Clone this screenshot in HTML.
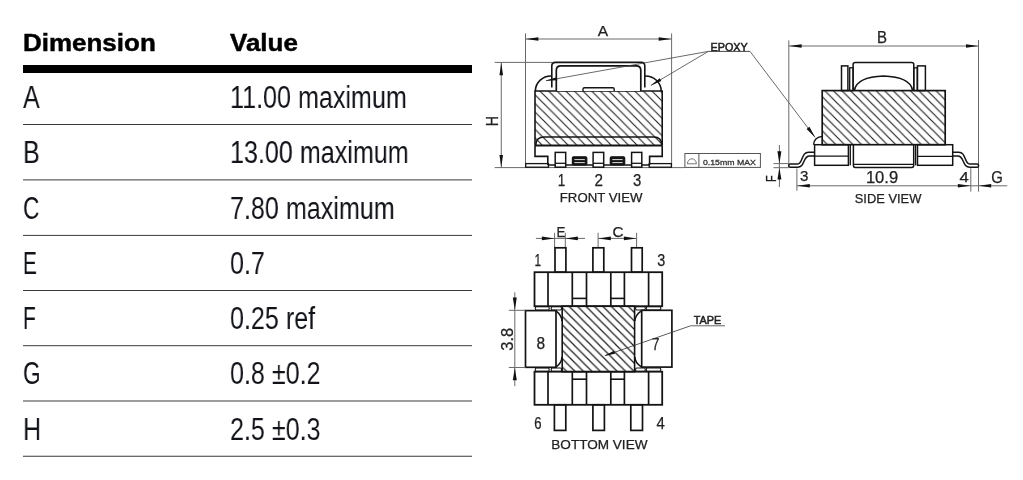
<!DOCTYPE html>
<html><head><meta charset="utf-8">
<style>
html,body{margin:0;padding:0;background:#fff;}
body{width:1023px;height:480px;position:relative;overflow:hidden;font-family:"Liberation Sans",sans-serif;}
.h{position:absolute;will-change:transform;top:0;font-weight:bold;font-size:24px;letter-spacing:0;transform-origin:0 0;transform:scaleX(1.082);-webkit-text-stroke:0.45px #000;line-height:1;color:#000;white-space:nowrap;}
.thick{position:absolute;left:23px;width:449px;top:65px;height:8px;background:#000;}
.ln{position:absolute;left:23px;width:449px;height:1px;background:#3a3a3a;}
.t{position:absolute;will-change:transform;font-size:31px;line-height:1;color:#111318;white-space:nowrap;transform-origin:0 0;transform:scaleX(0.81);}
svg{position:absolute;left:0;top:0;will-change:transform;}
</style></head><body>
<div class="h" style="left:23px;top:31px">Dimension</div>
<div class="h" style="left:229.6px;top:31px">Value</div>
<div class="thick"></div>

<div class="t" style="left:23px;top:82.00px">A</div>
<div class="t" style="left:229.8px;top:82.00px">11.00 maximum</div>
<div class="t" style="left:23px;top:137.25px">B</div>
<div class="t" style="left:229.8px;top:137.25px">13.00 maximum</div>
<div class="t" style="left:22.7px;top:192.50px;transform:scaleX(0.73)">C</div>
<div class="t" style="left:229.8px;top:192.50px">7.80 maximum</div>
<div class="t" style="left:22.7px;top:247.75px;transform:scaleX(0.67)">E</div>
<div class="t" style="left:229.8px;top:247.75px">0.7</div>
<div class="t" style="left:22.7px;top:303.00px;transform:scaleX(0.68)">F</div>
<div class="t" style="left:229.8px;top:303.00px">0.25 ref</div>
<div class="t" style="left:22.7px;top:358.25px;transform:scaleX(0.73)">G</div>
<div class="t" style="left:229.8px;top:358.25px">0.8 ±0.2</div>
<div class="t" style="left:23px;top:413.50px">H</div>
<div class="t" style="left:229.8px;top:413.50px">2.5 ±0.3</div>

<svg width="1023" height="480" viewBox="0 0 1023 480" font-family="Liberation Sans, sans-serif">
<defs>
<pattern id="hat" patternUnits="userSpaceOnUse" x="0" y="8.0" width="8.62" height="8.62"><path d="M-2.155,-2.155 L10.774999999999999,10.774999999999999 M-2.155,6.465 L2.155,10.774999999999999 M6.465,-2.155 L10.774999999999999,2.155" stroke="#1e1e1e" stroke-width="1.1"/></pattern>
<pattern id="hat2" patternUnits="userSpaceOnUse" x="0" y="7.37" width="8.44" height="8.44"><path d="M-2.11,-2.11 L10.549999999999999,10.549999999999999 M-2.11,6.33 L2.11,10.549999999999999 M6.33,-2.11 L10.549999999999999,2.11" stroke="#1e1e1e" stroke-width="1.25"/></pattern>
<pattern id="hat3" patternUnits="userSpaceOnUse" x="0" y="1.2" width="8.55" height="8.55"><path d="M-2.1375,-2.1375 L10.6875,10.6875 M-2.1375,6.4125000000000005 L2.1375,10.6875 M6.4125000000000005,-2.1375 L10.6875,2.1375" stroke="#1e1e1e" stroke-width="1.15"/></pattern>
</defs>
<line x1="23" y1="124.5" x2="472" y2="124.5" stroke="#3a3a3a" stroke-width="1.0" />
<line x1="23" y1="179.9" x2="472" y2="179.9" stroke="#3a3a3a" stroke-width="1.0" />
<line x1="23" y1="235.4" x2="472" y2="235.4" stroke="#3a3a3a" stroke-width="1.0" />
<line x1="23" y1="290.5" x2="472" y2="290.5" stroke="#3a3a3a" stroke-width="1.0" />
<line x1="23" y1="345.7" x2="472" y2="345.7" stroke="#3a3a3a" stroke-width="1.0" />
<line x1="23" y1="401.0" x2="472" y2="401.0" stroke="#3a3a3a" stroke-width="1.0" />
<line x1="23" y1="456.25" x2="472" y2="456.25" stroke="#3a3a3a" stroke-width="1.0" />
<line x1="525.5" y1="33.4" x2="525.5" y2="167.5" stroke="#6a6a6a" stroke-width="1.0" />
<line x1="671.6" y1="33.4" x2="671.6" y2="167.5" stroke="#6a6a6a" stroke-width="1.0" />
<line x1="525.5" y1="39" x2="671.6" y2="39" stroke="#6a6a6a" stroke-width="1.0" />
<path d="M525.80,39.00 L538.40,37.20 L538.40,40.80 Z" fill="#111"/>
<path d="M671.30,39.00 L658.70,40.80 L658.70,37.20 Z" fill="#111"/>
<text x="597.8" y="36" font-size="14" text-anchor="start" fill="#222" stroke="#222" stroke-width="0.25" textLength="10.4" lengthAdjust="spacingAndGlyphs" >A</text>
<line x1="494.7" y1="62.4" x2="552" y2="62.4" stroke="#6a6a6a" stroke-width="1.0" />
<line x1="494.7" y1="167.6" x2="684.8" y2="167.6" stroke="#6a6a6a" stroke-width="1.0" />
<line x1="501.25" y1="62.4" x2="501.25" y2="167.6" stroke="#6a6a6a" stroke-width="1.0" />
<path d="M501.25,62.80 L503.05,75.20 L499.45,75.20 Z" fill="#111"/>
<path d="M501.25,167.20 L499.45,155.00 L503.05,155.00 Z" fill="#111"/>
<text x="497.9" y="126.2" font-size="16.5" text-anchor="start" fill="#222" stroke="#222" stroke-width="0.25" textLength="10.2" lengthAdjust="spacingAndGlyphs" transform="rotate(-90 497.9 126.2)" >H</text>
<rect x="535" y="91" width="127.2" height="54.5" fill="url(#hat)"/>
<path d="M535,145.5 V91 H662.2 V145.5" stroke="#141414" stroke-width="1.6" fill="none" />
<path d="M535.8,145 Q536.2,137 544,137 H653.8 Q661.6,137 661.8,145" stroke="#141414" stroke-width="1.6" fill="none" />
<path d="M535,145.5 H662.2" stroke="#141414" stroke-width="1.8" fill="none" />
<path d="M535,145.5 V156.4 H547.8 V165" stroke="#141414" stroke-width="1.6" fill="none" />
<path d="M662.2,145.5 V156.4 H649.6 V165" stroke="#141414" stroke-width="1.6" fill="none" />
<path d="M547.8,165 H649.6" stroke="#141414" stroke-width="1.4" fill="none" />
<rect x="525.7" y="163.6" width="22.80" height="3.60" rx="0" stroke="#141414" stroke-width="1.3" fill="none"/>
<rect x="649.2" y="163.6" width="22.20" height="3.60" rx="0" stroke="#141414" stroke-width="1.3" fill="none"/>
<rect x="555.2" y="152.4" width="10.50" height="14.80" rx="0" stroke="#141414" stroke-width="1.5" fill="#fff"/>
<line x1="555.2" y1="163.3" x2="565.7" y2="163.3" stroke="#141414" stroke-width="1.3" />
<rect x="593.1" y="152.4" width="10.60" height="14.80" rx="0" stroke="#141414" stroke-width="1.5" fill="#fff"/>
<line x1="593.1" y1="163.3" x2="603.7" y2="163.3" stroke="#141414" stroke-width="1.3" />
<rect x="631.6" y="152.4" width="10.20" height="14.80" rx="0" stroke="#141414" stroke-width="1.5" fill="#fff"/>
<line x1="631.6" y1="163.3" x2="641.8" y2="163.3" stroke="#141414" stroke-width="1.3" />
<rect x="572.4" y="156.8" width="14.40" height="8.20" rx="1.2" stroke="#141414" stroke-width="1.2" fill="#151515"/>
<line x1="574.4" y1="159.6" x2="584.8" y2="159.6" stroke="#ddd" stroke-width="1.0" />
<line x1="574.4" y1="162.6" x2="584.8" y2="162.6" stroke="#ddd" stroke-width="1.0" />
<rect x="610.3" y="156.8" width="14.40" height="8.20" rx="1.2" stroke="#141414" stroke-width="1.2" fill="#151515"/>
<line x1="612.3" y1="159.6" x2="622.7" y2="159.6" stroke="#ddd" stroke-width="1.0" />
<line x1="612.3" y1="162.6" x2="622.7" y2="162.6" stroke="#ddd" stroke-width="1.0" />
<rect x="556.3" y="66" width="84.5" height="25" fill="#fff"/>
<path d="M551.8,87.5 V66 Q551.8,62.4 555.4,62.4 H641.2 Q644.8,62.4 644.8,66 V87.5" stroke="#141414" stroke-width="1.6" fill="none" />
<path d="M556.3,91 V70.5 Q556.3,65.9 560.9,65.9 H636.2 Q640.8,65.9 640.8,70.5 V91" stroke="#141414" stroke-width="1.7" fill="none" />
<path d="M583,91 V89.2 Q583,87.7 584.5,87.7 H612.7 Q614.2,87.7 614.2,89.2 V91" stroke="#141414" stroke-width="1.4" fill="none" />
<path d="M535.4,91 A15.6,15 0 0 1 551.8,76" stroke="#141414" stroke-width="1.6" fill="none" />
<path d="M644.8,76 A16,15 0 0 1 661.2,91" stroke="#141414" stroke-width="1.6" fill="none" />
<text x="561.5" y="186.2" font-size="16.5" text-anchor="middle" fill="#222" stroke="#222" stroke-width="0.25" textLength="7.5" lengthAdjust="spacingAndGlyphs" >1</text>
<text x="598.8" y="186.2" font-size="16.5" text-anchor="middle" fill="#222" stroke="#222" stroke-width="0.25" textLength="8.5" lengthAdjust="spacingAndGlyphs" >2</text>
<text x="637.2" y="186.2" font-size="16.5" text-anchor="middle" fill="#222" stroke="#222" stroke-width="0.25" textLength="8.3" lengthAdjust="spacingAndGlyphs" >3</text>
<text x="559.8" y="202.2" font-size="12.6" text-anchor="start" fill="#222" stroke="#222" stroke-width="0.25" textLength="82.6" lengthAdjust="spacingAndGlyphs" >FRONT VIEW</text>
<rect x="684.9" y="153.5" width="75.50" height="13.90" rx="0" stroke="#555" stroke-width="1.0" fill="none"/>
<line x1="698.9" y1="153.5" x2="698.9" y2="167.4" stroke="#555" stroke-width="1.0" />
<path d="M687.4,163.8 A4.5,5 0 0 1 696.4,163.8 Z" stroke="#666" stroke-width="0.9" fill="none" />
<text x="703" y="165.4" font-size="8.0" text-anchor="start" fill="#333" stroke="#333" stroke-width="0.3" textLength="52.8" lengthAdjust="spacingAndGlyphs" >0.15mm MAX</text>
<text x="710.6" y="50.6" font-size="10.6" text-anchor="start" fill="#222" stroke="#222" stroke-width="0.5" textLength="37.1" lengthAdjust="spacingAndGlyphs" >EPOXY</text>
<line x1="708.3" y1="51.4" x2="750" y2="51.4" stroke="#333" stroke-width="0.9" />
<line x1="708.3" y1="51.4" x2="546" y2="80.7" stroke="#444" stroke-width="0.8" />
<path d="M545.40,80.80 L556.71,77.13 L557.29,80.27 Z" fill="#111"/>
<line x1="708.3" y1="51.4" x2="651" y2="85.4" stroke="#444" stroke-width="0.8" />
<path d="M650.30,85.80 L659.68,78.33 L661.32,81.07 Z" fill="#111"/>
<line x1="750" y1="51.4" x2="815" y2="137.2" stroke="#444" stroke-width="0.8" />
<path d="M815.20,137.40 L806.57,128.99 L809.43,126.81 Z" fill="#111"/>
<line x1="788.8" y1="40.4" x2="788.8" y2="167.3" stroke="#6a6a6a" stroke-width="1.0" />
<line x1="978.5" y1="40.0" x2="978.5" y2="191.6" stroke="#6a6a6a" stroke-width="1.0" />
<line x1="788.8" y1="46" x2="978.5" y2="46" stroke="#6a6a6a" stroke-width="1.0" />
<path d="M789.10,46.00 L801.60,44.20 L801.60,47.80 Z" fill="#111"/>
<path d="M978.20,46.00 L966.00,47.80 L966.00,44.20 Z" fill="#111"/>
<text x="877.0" y="42.8" font-size="16.5" text-anchor="start" fill="#222" stroke="#222" stroke-width="0.25" textLength="10.0" lengthAdjust="spacingAndGlyphs" >B</text>
<rect x="822.2" y="90.6" width="123" height="54.1" fill="url(#hat3)"/>
<rect x="822.2" y="90.6" width="123.00" height="54.10" rx="0" stroke="#141414" stroke-width="1.7" fill="none"/>
<rect x="841.5" y="65.9" width="6.40" height="24.70" rx="0" stroke="#141414" stroke-width="1.5" fill="none"/>
<rect x="849.7" y="67.8" width="3.40" height="22.80" rx="0" stroke="#141414" stroke-width="1.3" fill="none"/>
<rect x="913.8" y="67.8" width="3.40" height="22.80" rx="0" stroke="#141414" stroke-width="1.3" fill="none"/>
<rect x="917.5" y="65.9" width="7.90" height="24.70" rx="0" stroke="#141414" stroke-width="1.5" fill="none"/>
<path d="M853.1,90.6 V64.6 Q853.1,62.5 855.2,62.5 H911.7 Q913.8,62.5 913.8,64.6 V90.6" stroke="#141414" stroke-width="1.5" fill="none" />
<path d="M854.5,90 Q857,77 883.5,76 Q910,77 912.5,90" stroke="#141414" stroke-width="1.5" fill="none" />
<path d="M813.6,144.7 A8.6,8.3 0 0 1 822.2,136.4" stroke="#141414" stroke-width="1.5" fill="none" />
<rect x="814.6" y="144.7" width="33.80" height="20.60" rx="0" stroke="#141414" stroke-width="1.5" fill="none"/>
<line x1="814.6" y1="156.1" x2="848.4" y2="156.1" stroke="#141414" stroke-width="1.4" />
<rect x="917.5" y="144.7" width="35.20" height="20.60" rx="0" stroke="#141414" stroke-width="1.5" fill="none"/>
<line x1="917.5" y1="156.4" x2="952.7" y2="156.4" stroke="#141414" stroke-width="1.4" />
<line x1="850.3" y1="144.7" x2="850.3" y2="165.3" stroke="#141414" stroke-width="1.3" />
<line x1="915.6" y1="144.7" x2="915.6" y2="165.3" stroke="#141414" stroke-width="1.3" />
<path d="M853.4,144.7 V165.6 Q853.4,167.4 855.2,167.4 H911.9 Q913.7,167.4 913.7,165.6 V144.7" stroke="#141414" stroke-width="1.5" fill="none" />
<line x1="853.4" y1="164.4" x2="913.7" y2="164.4" stroke="#141414" stroke-width="1.3" />
<path d="M814.6,152.2 H808.6 C804.5,152.2 803.5,155 801.5,160 C800.3,163 799.2,164.1 797,164.1 H790.3 A1.6,1.6 0 0 0 790.3,167.3 H797.5 C801.5,167.3 802.6,164.7 804.2,161 C805.8,157.2 806.8,156 809.5,156 H814.6" stroke="#141414" stroke-width="1.5" fill="none" />
<path d="M952.7,152.2 H958.7 C962.8,152.2 963.8,155 965.8,160 C967,163 968.1,164.1 970.3,164.1 H977 A1.6,1.6 0 0 1 977,167.3 H969.8 C965.8,167.3 964.7,164.7 963.1,161 C961.5,157.2 960.5,156 957.8,156 H952.7" stroke="#141414" stroke-width="1.5" fill="none" />
<line x1="779.4" y1="145" x2="779.4" y2="187" stroke="#6a6a6a" stroke-width="1.0" />
<line x1="773.5" y1="163.6" x2="788.8" y2="163.6" stroke="#6a6a6a" stroke-width="1.0" />
<line x1="773.5" y1="167.7" x2="788.8" y2="167.7" stroke="#6a6a6a" stroke-width="1.0" />
<path d="M779.40,163.40 L777.40,151.20 L781.40,151.20 Z" fill="#111"/>
<path d="M779.40,167.90 L781.40,179.60 L777.40,179.60 Z" fill="#111"/>
<text x="776.3" y="182.0" font-size="15.5" text-anchor="start" fill="#222" stroke="#222" stroke-width="0.25" textLength="6.6" lengthAdjust="spacingAndGlyphs" transform="rotate(-90 776.3 182.0)" >F</text>
<line x1="796.9" y1="168.6" x2="796.9" y2="190.8" stroke="#6a6a6a" stroke-width="1.0" />
<line x1="970.8" y1="168.2" x2="970.8" y2="191.6" stroke="#6a6a6a" stroke-width="1.0" />
<line x1="796.9" y1="185.8" x2="1007.3" y2="185.8" stroke="#6a6a6a" stroke-width="1.0" />
<path d="M797.20,185.80 L809.80,184.00 L809.80,187.60 Z" fill="#111"/>
<path d="M970.50,185.80 L957.90,187.60 L957.90,184.00 Z" fill="#111"/>
<path d="M978.80,185.80 L991.20,184.00 L991.20,187.60 Z" fill="#111"/>
<text x="800" y="181.4" font-size="15.5" text-anchor="start" fill="#222" stroke="#222" stroke-width="0.25" textLength="8.4" lengthAdjust="spacingAndGlyphs" >3</text>
<text x="865.9" y="182.9" font-size="16" text-anchor="start" fill="#222" stroke="#222" stroke-width="0.25" textLength="32.2" lengthAdjust="spacingAndGlyphs" >10.9</text>
<text x="959.5" y="182.3" font-size="15.5" text-anchor="start" fill="#222" stroke="#222" stroke-width="0.25" textLength="9.3" lengthAdjust="spacingAndGlyphs" >4</text>
<text x="991.2" y="183" font-size="16" text-anchor="start" fill="#222" stroke="#222" stroke-width="0.25" textLength="11.6" lengthAdjust="spacingAndGlyphs" >G</text>
<text x="854.7" y="203.1" font-size="13.5" text-anchor="start" fill="#222" stroke="#222" stroke-width="0.25" textLength="66.7" lengthAdjust="spacingAndGlyphs" >SIDE VIEW</text>
<line x1="554.6" y1="232.8" x2="554.6" y2="247.8" stroke="#6a6a6a" stroke-width="1.0" />
<line x1="565.3" y1="232.8" x2="565.3" y2="247.8" stroke="#6a6a6a" stroke-width="1.0" />
<line x1="535.9" y1="238.4" x2="585" y2="238.4" stroke="#6a6a6a" stroke-width="1.0" />
<path d="M554.40,238.40 L541.90,240.20 L541.90,236.60 Z" fill="#111"/>
<path d="M565.50,238.40 L577.90,236.60 L577.90,240.20 Z" fill="#111"/>
<text x="556.4" y="236.6" font-size="15" text-anchor="start" fill="#222" stroke="#222" stroke-width="0.25" textLength="8.9" lengthAdjust="spacingAndGlyphs" >E</text>
<line x1="598.1" y1="232.8" x2="598.1" y2="247.8" stroke="#6a6a6a" stroke-width="1.0" />
<line x1="636.6" y1="232.8" x2="636.6" y2="247.8" stroke="#6a6a6a" stroke-width="1.0" />
<line x1="598.1" y1="238.4" x2="636.6" y2="238.4" stroke="#6a6a6a" stroke-width="1.0" />
<path d="M598.40,238.40 L610.80,236.60 L610.80,240.20 Z" fill="#111"/>
<path d="M636.30,238.40 L623.90,240.20 L623.90,236.60 Z" fill="#111"/>
<text x="612.4" y="236.6" font-size="15" text-anchor="start" fill="#222" stroke="#222" stroke-width="0.25" textLength="11.0" lengthAdjust="spacingAndGlyphs" >C</text>
<rect x="555.0" y="247.8" width="10.90" height="24.40" rx="0" stroke="#141414" stroke-width="1.7" fill="#fff"/>
<rect x="592.9" y="247.8" width="10.90" height="24.40" rx="0" stroke="#141414" stroke-width="1.7" fill="#fff"/>
<rect x="631.5" y="247.8" width="10.70" height="24.40" rx="0" stroke="#141414" stroke-width="1.7" fill="#fff"/>
<rect x="554.4" y="404.8" width="11.40" height="25.60" rx="0" stroke="#141414" stroke-width="1.7" fill="#fff"/>
<rect x="592.9" y="404.8" width="11.50" height="25.60" rx="0" stroke="#141414" stroke-width="1.7" fill="#fff"/>
<rect x="630.8" y="404.8" width="11.70" height="25.60" rx="0" stroke="#141414" stroke-width="1.7" fill="#fff"/>
<rect x="562.2" y="306.2" width="72.4" height="65.5" fill="url(#hat2)"/>
<rect x="562.2" y="306.2" width="72.40" height="65.50" rx="0" stroke="#141414" stroke-width="1.6" fill="none"/>
<rect x="534.5" y="272.2" width="127.70" height="34.00" rx="0" stroke="#141414" stroke-width="1.8" fill="none"/>
<line x1="548" y1="272.2" x2="548" y2="306.2" stroke="#141414" stroke-width="1.7" />
<line x1="572.3" y1="272.2" x2="572.3" y2="306.2" stroke="#141414" stroke-width="1.7" />
<line x1="586.5" y1="272.2" x2="586.5" y2="306.2" stroke="#141414" stroke-width="1.7" />
<line x1="610.8" y1="272.2" x2="610.8" y2="306.2" stroke="#141414" stroke-width="1.7" />
<line x1="624.4" y1="272.2" x2="624.4" y2="306.2" stroke="#141414" stroke-width="1.7" />
<line x1="648.6" y1="272.2" x2="648.6" y2="306.2" stroke="#141414" stroke-width="1.7" />
<line x1="572.3" y1="298.4" x2="586.5" y2="298.4" stroke="#141414" stroke-width="1.6" />
<line x1="610.8" y1="298.4" x2="624.4" y2="298.4" stroke="#141414" stroke-width="1.6" />
<rect x="534.5" y="371.7" width="127.70" height="33.10" rx="0" stroke="#141414" stroke-width="1.8" fill="none"/>
<line x1="548" y1="371.7" x2="548" y2="404.8" stroke="#141414" stroke-width="1.7" />
<line x1="572.3" y1="371.7" x2="572.3" y2="404.8" stroke="#141414" stroke-width="1.7" />
<line x1="586.5" y1="371.7" x2="586.5" y2="404.8" stroke="#141414" stroke-width="1.7" />
<line x1="610.8" y1="371.7" x2="610.8" y2="404.8" stroke="#141414" stroke-width="1.7" />
<line x1="624.4" y1="371.7" x2="624.4" y2="404.8" stroke="#141414" stroke-width="1.7" />
<line x1="648.6" y1="371.7" x2="648.6" y2="404.8" stroke="#141414" stroke-width="1.7" />
<line x1="572.3" y1="379.2" x2="586.5" y2="379.2" stroke="#141414" stroke-width="1.6" />
<line x1="610.8" y1="379.2" x2="624.4" y2="379.2" stroke="#141414" stroke-width="1.6" />
<rect x="535.3" y="306.8" width="13.90" height="3.20" rx="1.2" stroke="#141414" stroke-width="1.1" fill="none"/>
<rect x="551.2" y="306.8" width="10.30" height="3.20" rx="1.2" stroke="#141414" stroke-width="1.1" fill="none"/>
<rect x="635.6" y="306.8" width="9.70" height="3.20" rx="1.2" stroke="#141414" stroke-width="1.1" fill="none"/>
<rect x="646.3" y="306.8" width="14.50" height="3.20" rx="1.2" stroke="#141414" stroke-width="1.1" fill="none"/>
<rect x="535.3" y="368.0" width="13.90" height="3.30" rx="1.2" stroke="#141414" stroke-width="1.1" fill="none"/>
<rect x="551.2" y="368.0" width="10.30" height="3.30" rx="1.2" stroke="#141414" stroke-width="1.1" fill="none"/>
<rect x="635.6" y="368.0" width="9.70" height="3.30" rx="1.2" stroke="#141414" stroke-width="1.1" fill="none"/>
<rect x="646.3" y="368.0" width="14.50" height="3.30" rx="1.2" stroke="#141414" stroke-width="1.1" fill="none"/>
<rect x="525.5" y="310.6" width="30.50" height="56.70" rx="0" stroke="#141414" stroke-width="1.7" fill="#fff"/>
<rect x="641.7" y="310.3" width="30.20" height="56.80" rx="0" stroke="#141414" stroke-width="1.7" fill="#fff"/>
<path d="M556,310.8 Q561.9,315.5 561.9,321 M561.9,357 Q561.9,362.5 556,367.2" stroke="#141414" stroke-width="1.5" fill="none" />
<path d="M641.2,310.8 Q634.9,315.5 634.9,321 M634.9,357 Q634.9,362.5 641.2,366.9" stroke="#141414" stroke-width="1.5" fill="none" />
<line x1="514.8" y1="292.3" x2="514.8" y2="386.2" stroke="#6a6a6a" stroke-width="1.0" />
<line x1="508.8" y1="310.3" x2="525.5" y2="310.3" stroke="#6a6a6a" stroke-width="1.0" />
<line x1="508.8" y1="367.5" x2="525.5" y2="367.5" stroke="#6a6a6a" stroke-width="1.0" />
<path d="M514.80,310.00 L512.80,297.60 L516.80,297.60 Z" fill="#111"/>
<path d="M514.80,367.80 L516.80,380.20 L512.80,380.20 Z" fill="#111"/>
<text x="512.9" y="350.7" font-size="16.5" text-anchor="start" fill="#222" stroke="#222" stroke-width="0.25" textLength="22.9" lengthAdjust="spacingAndGlyphs" transform="rotate(-90 512.9 350.7)" >3.8</text>
<text x="534.4" y="265.6" font-size="16" text-anchor="start" fill="#222" stroke="#222" stroke-width="0.25" textLength="6.6" lengthAdjust="spacingAndGlyphs" >1</text>
<text x="657.2" y="265.6" font-size="16" text-anchor="start" fill="#222" stroke="#222" stroke-width="0.25" textLength="8.0" lengthAdjust="spacingAndGlyphs" >3</text>
<text x="534.2" y="428.8" font-size="16" text-anchor="start" fill="#222" stroke="#222" stroke-width="0.25" textLength="7.3" lengthAdjust="spacingAndGlyphs" >6</text>
<text x="656.5" y="428.8" font-size="16" text-anchor="start" fill="#222" stroke="#222" stroke-width="0.25" textLength="8.3" lengthAdjust="spacingAndGlyphs" >4</text>
<text x="536.6" y="349.0" font-size="16.5" text-anchor="start" fill="#222" stroke="#222" stroke-width="0.25" textLength="8.6" lengthAdjust="spacingAndGlyphs" >8</text>
<text x="652.0" y="349.8" font-size="16.5" text-anchor="start" fill="#222" stroke="#222" stroke-width="0.25" textLength="7.4" lengthAdjust="spacingAndGlyphs" >7</text>
<text x="551.3" y="448.6" font-size="13.4" text-anchor="start" fill="#222" stroke="#222" stroke-width="0.25" textLength="96.2" lengthAdjust="spacingAndGlyphs" >BOTTOM VIEW</text>
<text x="693.8" y="323.8" font-size="10.5" text-anchor="start" fill="#222" stroke="#222" stroke-width="0.5" textLength="27.4" lengthAdjust="spacingAndGlyphs" >TAPE</text>
<line x1="690.6" y1="325.8" x2="725" y2="325.8" stroke="#555" stroke-width="0.9" />
<line x1="690.6" y1="325.8" x2="605" y2="355.6" stroke="#333" stroke-width="0.8" />
<path d="M604.00,356.00 L613.97,350.79 L615.03,353.81 Z" fill="#111"/>
</svg>
</body></html>
